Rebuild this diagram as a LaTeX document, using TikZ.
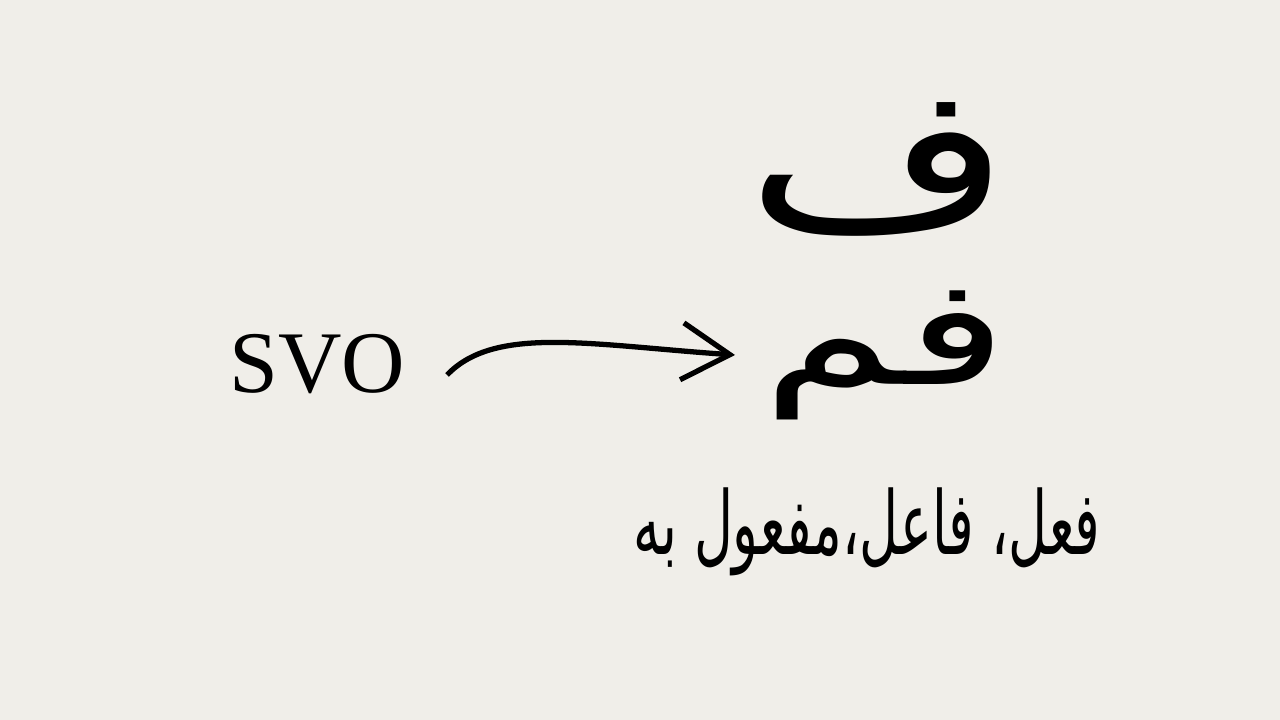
\documentclass[tikz,border=0pt]{standalone}
\usepackage{fontspec}
\usetikzlibrary{arrows.meta}
\TeXXeTstate=1
\newfontfamily\arabicfont[Script=Arabic]{DejaVu Sans}
\newfontfamily\svofont{Liberation Serif}
\definecolor{paper}{HTML}{F0EEE9}
\tikzset{
    arabic/.style={anchor=base, font=\fontsize{#1}{#1}\selectfont\arabicfont},
    curvearrow/.style={line width=1.5pt, -{Straight Barb[length=4.8mm,width=5.7mm,line width=1.5pt]}}
}
\begin{document}
\begin{tikzpicture}
            \fill[paper] (0,0) rectangle (12.8,7.2);
            \useasboundingbox (0,0) rectangle (12.8,7.2);

            \node[anchor=base, font=\fontsize{25}{28}\selectfont\svofont] (svo) at (3.175,3.27) {SVO};

            \node[arabic=56, xscale=1.3] (fa) at (8.79,4.92) {\beginR ف\endR};
            \node[arabic=42, xscale=1.45] (fam) at (8.85,3.35) {\beginR فم\endR};
            \node[arabic=25, xscale=0.61] (words) at (8.67,1.65) {\beginR فعل، فاعل،مفعول به\endR};

            \coordinate (a0) at (4.47,3.45);
            \coordinate (a1) at (7.35,3.65);
            \draw[curvearrow] (a0) .. controls (4.95,3.95) and (5.9,3.75) .. (a1);
        \end{tikzpicture}
\end{document}
